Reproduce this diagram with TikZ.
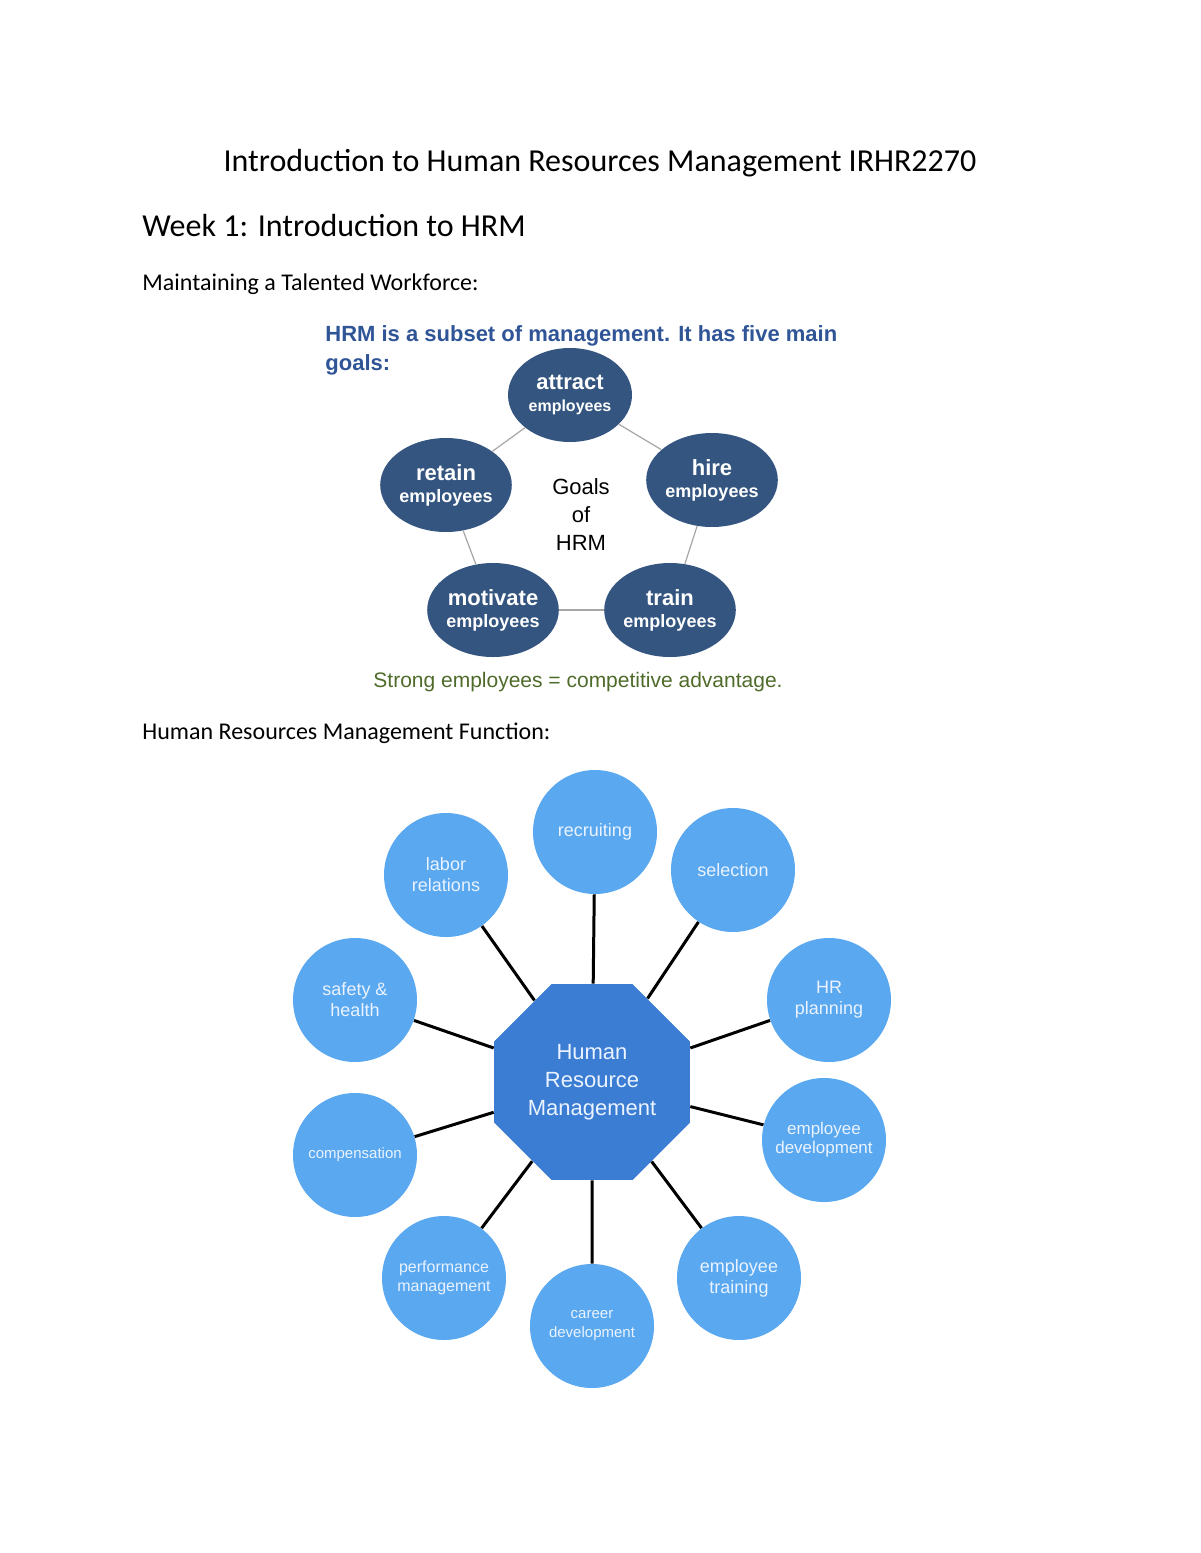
\documentclass[tikz,border=0pt]{standalone}
\usepackage{fontspec}
\setmainfont{Carlito}
\newfontfamily\arial{Liberation Sans}
\usetikzlibrary{shapes.geometric}
\definecolor{dk}{HTML}{34557F}
\definecolor{lt}{HTML}{5AA8F0}
\definecolor{oc}{HTML}{3B7DD3}
\definecolor{hb}{HTML}{2F5597}
\definecolor{gr}{HTML}{4F6B2A}
\definecolor{tx}{HTML}{EAF3FF}
\begin{document}
\begin{tikzpicture}[x=0.5pt,y=-0.5pt,
  goal/.style={ellipse,fill=dk,minimum width=62pt,minimum height=47pt,inner sep=0pt,text=white,font=\arial\bfseries,align=center},
  fn/.style={circle,fill=lt,minimum size=62pt,inner sep=0pt,text=tx,font=\arial\fontsize{9}{10.5}\selectfont,align=center},
  thin/.style={draw=gray!70,line width=0.6pt},
  thick/.style={draw=black,line width=1.5pt}]
\useasboundingbox (0,0) rectangle (1200,1553);
\node[anchor=center,font=\fontsize{16}{19}\selectfont] (title) at (600,163) {Introduction to Human Resources Management IRHR2270};
\node[anchor=west,font=\fontsize{16}{19}\selectfont,inner sep=0pt] (week) at (142,226) {Week 1: Introduction to HRM};
\node[anchor=west,font=\fontsize{12}{14}\selectfont,inner sep=0pt] (maint) at (142,284) {Maintaining a Talented Workforce:};
\node[anchor=west,font=\fontsize{12}{14}\selectfont,inner sep=0pt] (func) at (142,733) {Human Resources Management Function:};
% goals diagram
\node[anchor=west,inner sep=0pt,font=\arial\bfseries\fontsize{11}{14}\selectfont,text=hb] (h1) at (325,336) {HRM is a subset of management. It has five main};
\node[anchor=west,inner sep=0pt,font=\arial\bfseries\fontsize{11}{14}\selectfont,text=hb] (h2) at (325,365) {goals:};
\node[goal] (attract) at (570,395) {{\fontsize{11}{12}\selectfont attract}\\[-1pt]{\fontsize{8}{9}\selectfont employees}};
\node[goal] (hire) at (712,480) {{\fontsize{11}{12}\selectfont hire}\\[-1pt]{\fontsize{9}{10}\selectfont employees}};
\node[goal] (retain) at (446,485) {{\fontsize{11}{12}\selectfont retain}\\[-1pt]{\fontsize{9}{10}\selectfont employees}};
\node[goal] (motivate) at (493,610) {{\fontsize{11}{12}\selectfont motivate}\\[-1pt]{\fontsize{9}{10}\selectfont employees}};
\node[goal] (train) at (670,610) {{\fontsize{11}{12}\selectfont train}\\[-1pt]{\fontsize{9}{10}\selectfont employees}};
\node[align=center,font=\arial\fontsize{11}{14}\selectfont] (goals) at (581,515) {Goals\\of\\HRM};
\draw[thin] (attract) -- (hire);
\draw[thin] (attract) -- (retain);
\draw[thin] (hire) -- (train);
\draw[thin] (train) -- (motivate);
\draw[thin] (motivate) -- (retain);
\node[font=\arial\fontsize{10.5}{12}\selectfont,text=gr] (strong) at (578,682) {Strong employees = competitive advantage.};
% HRM function
\node[regular polygon,regular polygon sides=8,minimum size=106pt,fill=oc,inner sep=0pt,text=tx,align=center,font=\arial\fontsize{11}{14}\selectfont] (hrm) at (592,1082) {Human\\Resource\\Management};
\node[fn] (rec) at (595,832) {recruiting};
\node[fn] (sel) at (733,870) {selection};
\node[fn] (hrp) at (829,1000) {HR\\planning};
\node[fn,font=\arial\fontsize{8.5}{9.5}\selectfont] (edev) at (824,1140) {employee\\development};
\node[fn] (etr) at (739,1278) {employee\\training};
\node[fn,font=\arial\fontsize{7.5}{9.5}\selectfont] (cdev) at (592,1326) {career\\development};
\node[fn,font=\arial\fontsize{8}{9.5}\selectfont] (perf) at (444,1278) {performance\\management};
\node[fn,font=\arial\fontsize{7.5}{9}\selectfont] (comp) at (355,1155) {compensation};
\node[fn] (safe) at (355,1000) {safety \&\\health};
\node[fn] (lab) at (446,875) {labor\\relations};
\foreach \n in {rec,sel,hrp,edev,etr,cdev,perf,comp,safe,lab} \draw[thick] (hrm) -- (\n);
\end{tikzpicture}
\end{document}
